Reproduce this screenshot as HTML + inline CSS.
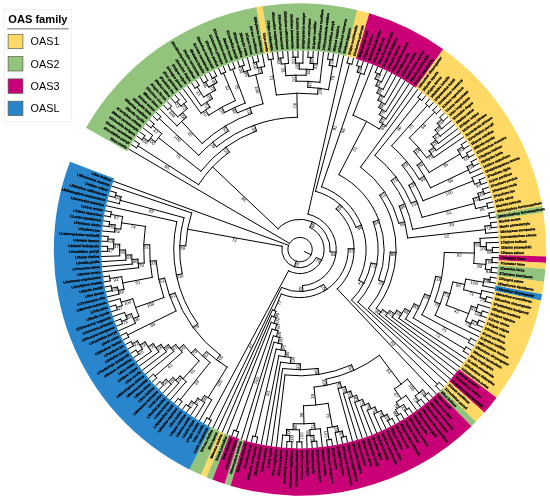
<!DOCTYPE html>
<html lang="en"><head><meta charset="utf-8"><title>OAS family phylogenetic tree</title>
<style>html,body{margin:0;padding:0;background:#fff}body{width:550px;height:500px;overflow:hidden}svg{display:block}</style></head>
<body>
<svg width="550" height="500" viewBox="0 0 550 500">
<rect width="550" height="500" fill="#fff"/>
<g id="ring">
<path fill="#93c47d" d="M85.97 127.82A246.2 246.2 0 0 1 256.62 7.15L264.95 53.71A198.9 198.9 0 0 0 127.09 151.19Z"/>
<path fill="#ffd966" d="M256.37 7.2A246.2 246.2 0 0 1 262.87 6.12L270.01 52.87A198.9 198.9 0 0 0 264.75 53.75Z"/>
<path fill="#93c47d" d="M262.62 6.15A246.2 246.2 0 0 1 357.31 10.06L346.3 56.06A198.9 198.9 0 0 0 269.8 52.91Z"/>
<path fill="#ffd966" d="M357.06 10A246.2 246.2 0 0 1 369.57 13.33L356.2 58.7A198.9 198.9 0 0 0 346.1 56.02Z"/>
<path fill="#c90076" d="M369.32 13.26A246.2 246.2 0 0 1 443.3 49.3L415.77 87.77A198.9 198.9 0 0 0 356 58.65Z"/>
<path fill="#ffd966" d="M443.09 49.15A246.2 246.2 0 0 1 542.36 206.18L495.8 214.5A198.9 198.9 0 0 0 415.6 87.64Z"/>
<path fill="#93c47d" d="M542.31 205.92A246.2 246.2 0 0 1 543.39 212.43L496.63 219.55A198.9 198.9 0 0 0 495.76 214.29Z"/>
<path fill="#ffd966" d="M543.35 212.18A246.2 246.2 0 0 1 546.1 256.67L498.82 255.3A198.9 198.9 0 0 0 496.6 219.35Z"/>
<path fill="#c90076" d="M546.1 256.42A246.2 246.2 0 0 1 545.83 263.01L498.6 260.41A198.9 198.9 0 0 0 498.82 255.09Z"/>
<path fill="#ffd966" d="M545.84 262.75A246.2 246.2 0 0 1 545.4 269.34L498.25 265.52A198.9 198.9 0 0 0 498.61 260.21Z"/>
<path fill="#93c47d" d="M545.42 269.08A246.2 246.2 0 0 1 544.05 281.94L497.17 275.71A198.9 198.9 0 0 0 498.27 265.32Z"/>
<path fill="#ffd966" d="M544.09 281.69A246.2 246.2 0 0 1 542.06 294.47L495.55 285.83A198.9 198.9 0 0 0 497.19 275.5Z"/>
<path fill="#2986cc" d="M542.11 294.21A246.2 246.2 0 0 1 540.82 300.69L494.55 290.85A198.9 198.9 0 0 0 495.59 285.62Z"/>
<path fill="#ffd966" d="M540.87 300.43A246.2 246.2 0 0 1 496.4 397.96L458.67 369.44A198.9 198.9 0 0 0 494.6 290.65Z"/>
<path fill="#c90076" d="M496.56 397.75A246.2 246.2 0 0 1 484.36 412.68L448.94 381.33A198.9 198.9 0 0 0 458.8 369.27Z"/>
<path fill="#ffd966" d="M484.53 412.48A246.2 246.2 0 0 1 475.71 421.95L441.96 388.82A198.9 198.9 0 0 0 449.08 381.17Z"/>
<path fill="#93c47d" d="M475.89 421.77A246.2 246.2 0 0 1 471.21 426.42L438.32 392.43A198.9 198.9 0 0 0 442.1 388.67Z"/>
<path fill="#c90076" d="M471.4 426.24A246.2 246.2 0 0 1 230.32 485.63L243.71 440.27A198.9 198.9 0 0 0 438.47 392.28Z"/>
<path fill="#93c47d" d="M230.57 485.71A246.2 246.2 0 0 1 224.27 483.76L238.82 438.76A198.9 198.9 0 0 0 243.91 440.33Z"/>
<path fill="#c90076" d="M224.51 483.84A246.2 246.2 0 0 1 212.31 479.55L229.15 435.35A198.9 198.9 0 0 0 239.01 438.82Z"/>
<path fill="#93c47d" d="M212.55 479.64A246.2 246.2 0 0 1 206.41 477.22L224.39 433.47A198.9 198.9 0 0 0 229.35 435.43Z"/>
<path fill="#ffd966" d="M206.65 477.32A246.2 246.2 0 0 1 200.58 474.73L219.68 431.46A198.9 198.9 0 0 0 224.58 433.55Z"/>
<path fill="#93c47d" d="M200.81 474.84A246.2 246.2 0 0 1 189.11 469.31L210.42 427.08A198.9 198.9 0 0 0 219.87 431.54Z"/>
<path fill="#2986cc" d="M189.34 469.43A246.2 246.2 0 0 1 69.97 161.75L114.16 178.61A198.9 198.9 0 0 0 210.6 427.18Z"/>
</g>
<path id="tree" fill="none" stroke="#000" stroke-width="1" stroke-linecap="square" d="M289.44 243.31A12.25 12.25 0 1 1 288.5 245.29M289.44 243.31L128.86 149.14M296.19 261.14L294.32 266.84M316.4 257.51A18.25 18.25 0 0 1 282.04 246.26M316.4 257.51L321.79 260.15M309.81 227.32A24.25 24.25 0 1 1 288.53 270.87M309.81 227.32L312.24 221.82M278 228.73A30.26 30.26 0 0 1 330.17 251.79M278 228.73L212.5 166.89M198.62 184.66A120.34 120.34 0 0 1 229.45 152.02M198.62 184.66L137.92 145.84M136.6 147.94A192.4 192.4 0 0 1 139.27 143.76M136.6 147.94L131.5 144.77M139.27 143.76L134.25 140.46M229.45 152.02L225.93 147.15M200.88 171.16A126.34 126.34 0 0 1 256.56 130.86M200.88 171.16L158.48 137.65M155.3 141.8A180.38 180.38 0 0 1 161.78 133.6M155.3 141.8L150.48 138.21M148.36 141.12A186.39 186.39 0 0 1 152.66 135.35M148.36 141.12L143.47 137.63M142.04 139.66A192.4 192.4 0 0 1 144.92 135.63M142.04 139.66L137.11 136.23M144.92 135.63L140.08 132.07M152.66 135.35L143.16 127.99M161.78 133.6L152.57 125.88M150.99 127.79A192.4 192.4 0 0 1 154.18 124M150.99 127.79L146.34 123.99M154.18 124L149.63 120.08M256.56 130.86L254.5 125.22M216.57 146.77A132.35 132.35 0 0 1 297.37 117.18M216.57 146.77L212.78 142.1M198.7 155.27A138.35 138.35 0 0 1 228.56 131.02M198.7 155.27L159.13 118.46M157.46 120.28A192.4 192.4 0 0 1 160.83 116.65M157.46 120.28L153.01 116.25M160.83 116.65L156.49 112.51M228.56 131.02L225.46 125.88M202.04 143.47A144.36 144.36 0 0 1 251.94 113.38M202.04 143.47L181.67 121.42M177.01 125.88A174.38 174.38 0 0 1 186.49 117.12M177.01 125.88L160.06 108.86M186.49 117.12L182.58 112.57M177.8 116.81A180.38 180.38 0 0 1 187.5 108.49M177.8 116.81L169.67 107.98M167.86 109.67A192.4 192.4 0 0 1 171.5 106.31M167.86 109.67L163.73 105.3M171.5 106.31L167.49 101.84M187.5 108.49L183.75 103.8M180.96 106.07A186.39 186.39 0 0 1 186.59 101.58M180.96 106.07L177.13 101.45M175.23 103.05A192.4 192.4 0 0 1 179.04 99.88M175.23 103.05L171.34 98.48M179.04 99.88L175.27 95.21M186.59 101.58L179.28 92.05M251.94 113.38L249.94 107.72M237.27 112.85A150.36 150.36 0 0 1 263.02 103.76M237.27 112.85L234.76 107.39M224.65 112.49A156.37 156.37 0 0 1 245.22 103.04M224.65 112.49L221.76 107.23M208.83 115.14A162.37 162.37 0 0 1 235.36 100.55M208.83 115.14L205.46 110.17M201.03 113.29A168.38 168.38 0 0 1 210 107.2M201.03 113.29L183.38 89M210 107.2L206.79 102.12M201.16 105.83A174.38 174.38 0 0 1 212.55 98.63M201.16 105.83L187.55 86.05M212.55 98.63L209.54 93.44M203.58 97.05A180.38 180.38 0 0 1 215.63 90.06M203.58 97.05L197.16 86.9M195.07 88.24A192.4 192.4 0 0 1 199.26 85.59M195.07 88.24L191.8 83.2M199.26 85.59L196.11 80.47M215.63 90.06L212.82 84.75M208.61 87.05A186.39 186.39 0 0 1 217.09 82.56M208.61 87.05L205.66 81.82M203.51 83.05A192.4 192.4 0 0 1 207.83 80.62M203.51 83.05L200.5 77.85M207.83 80.62L204.95 75.35M217.09 82.56L214.42 77.19M212.21 78.3A192.4 192.4 0 0 1 216.65 76.1M212.21 78.3L209.47 72.96M216.65 76.1L214.05 70.69M235.36 100.55L223.41 73.01M221.14 74.01A192.4 192.4 0 0 1 225.69 72.04M221.14 74.01L218.68 68.53M225.69 72.04L223.37 66.5M245.22 103.04L232.6 69.3M230.28 70.18A192.4 192.4 0 0 1 234.92 68.45M230.28 70.18L228.11 64.58M234.92 68.45L232.89 62.79M263.02 103.76L255.64 74.65M248.92 76.5A180.38 180.38 0 0 1 262.42 73.07M248.92 76.5L247.22 70.74M243.78 71.79A186.39 186.39 0 0 1 250.68 69.75M243.78 71.79L241.96 66.07M239.61 66.83A192.4 192.4 0 0 1 244.33 65.33M239.61 66.83L237.72 61.13M244.33 65.33L242.59 59.59M250.68 69.75L247.5 58.17M262.42 73.07L261.17 67.2M257.66 67.98A186.39 186.39 0 0 1 264.7 66.48M257.66 67.98L256.3 62.13M253.89 62.71A192.4 192.4 0 0 1 258.71 61.59M253.89 62.71L252.45 56.88M258.71 61.59L257.42 55.72M264.7 66.48L262.43 54.69M297.37 117.18L296.89 93.17M276.34 94.94A156.37 156.37 0 0 1 317.49 94.12M276.34 94.94L270.89 59.32M268.44 59.71A192.4 192.4 0 0 1 273.34 58.96M268.44 59.71L267.46 53.79M273.34 58.96L272.51 53.01M317.49 94.12L318.16 88.15M307.74 87.31A162.37 162.37 0 0 1 328.51 89.65M307.74 87.31L308.03 81.32M296.11 81.17A168.38 168.38 0 0 1 319.91 82.31M296.11 81.17L295.97 75.17M285.88 75.69A174.38 174.38 0 0 1 306.07 75.23M285.88 75.69L284.91 63.72M281.32 64.05A186.39 186.39 0 0 1 288.5 63.47M281.32 64.05L280.72 58.07M278.26 58.34A192.4 192.4 0 0 1 283.19 57.84M278.26 58.34L277.58 52.37M283.19 57.84L282.66 51.86M288.5 63.47L287.76 51.48M306.07 75.23L306.28 69.22M299.31 69.12A180.38 180.38 0 0 1 313.24 69.6M299.31 69.12L299.29 63.11M295.69 63.16A186.39 186.39 0 0 1 302.89 63.13M295.69 63.16L295.55 57.16M293.08 57.23A192.4 192.4 0 0 1 298.03 57.12M293.08 57.23L292.86 51.23M298.03 57.12L297.97 51.11M302.89 63.13L303.08 51.12M313.24 69.6L313.68 63.61M310.09 63.38A186.39 186.39 0 0 1 317.27 63.91M310.09 63.38L310.41 57.39M307.94 57.27A192.4 192.4 0 0 1 312.88 57.54M307.94 57.27L308.18 51.27M312.88 57.54L313.29 51.55M317.27 63.91L318.38 51.95M319.91 82.31L323.46 52.49M328.51 89.65L332.72 66M329.17 65.41A186.39 186.39 0 0 1 336.26 66.67M329.17 65.41L330.11 59.48M327.66 59.1A192.4 192.4 0 0 1 332.56 59.88M327.66 59.1L328.53 53.16M332.56 59.88L333.57 53.96M336.26 66.67L338.6 54.89M330.17 251.79L336.16 252.25M307.97 214.12A36.27 36.27 0 0 1 302.53 285.68M307.97 214.12L343.6 55.95M302.53 285.68L302.95 291.67M323.64 284.54A42.27 42.27 0 0 1 281.47 287.49M323.64 284.54L326.99 289.52M348.27 248.76A48.28 48.28 0 0 1 281.23 293.98M348.27 248.76L354.27 248.67M336.04 208.91A54.28 54.28 0 0 1 337.26 288.97M336.04 208.91L340.02 204.42M315.51 191.24A60.28 60.28 0 0 1 356.01 227.19M315.51 191.24L349.49 63.58M347.1 62.96A192.4 192.4 0 0 1 351.88 64.23M347.1 62.96L348.57 57.14M351.88 64.23L353.5 58.45M356.01 227.19L361.59 224.97M321.54 186.81A66.29 66.29 0 0 1 358.74 280.22M321.54 186.81L360.58 73.23M357.16 72.09A186.39 186.39 0 0 1 363.97 74.43M357.16 72.09L359 66.38M356.64 65.63A192.4 192.4 0 0 1 361.35 67.15M356.64 65.63L358.41 59.89M361.35 67.15L363.27 61.46M363.97 74.43L368.09 63.15M358.74 280.22L364.07 283M371.02 263.02A72.3 72.3 0 0 1 351.62 300.11M371.02 263.02L376.92 264.14M373.26 221.86A78.3 78.3 0 0 1 357.99 302.12M373.26 221.86L378.88 219.74M338.87 174.69A84.31 84.31 0 0 1 378.59 280M338.87 174.69L366.55 121.4M353.02 115.23A144.36 144.36 0 0 1 379.38 128.93M353.02 115.23L372.87 64.97M379.38 128.93L382.68 123.91M379.43 121.83A150.36 150.36 0 0 1 385.87 126.07M379.43 121.83L382.6 116.73M379.18 114.67A156.37 156.37 0 0 1 385.97 118.89M379.18 114.67L382.22 109.49M378.65 107.45A162.37 162.37 0 0 1 385.75 111.62M378.65 107.45L381.56 102.2M377.86 100.21A168.38 168.38 0 0 1 385.21 104.28M377.86 100.21L380.63 94.88M376.88 92.98A174.38 174.38 0 0 1 384.34 96.87M376.88 92.98L379.52 87.59M375.86 85.84A180.38 180.38 0 0 1 383.15 89.42M375.86 85.84L378.38 80.39M375.1 78.91A186.39 186.39 0 0 1 381.63 81.94M375.1 78.91L377.52 73.41M375.25 72.43A192.4 192.4 0 0 1 379.78 74.43M375.25 72.43L377.59 66.9M379.78 74.43L382.27 68.96M381.63 81.94L386.89 71.14M383.15 89.42L391.46 73.44M384.34 96.87L395.96 75.85M385.21 104.28L400.4 78.38M385.75 111.62L404.77 81.02M385.97 118.89L409.08 83.78M385.87 126.07L413.31 86.64M378.59 280L384.19 282.17M390.27 252.14A90.31 90.31 0 0 1 368.42 308.44M390.27 252.14L396.27 252.32M379.58 195.25A96.32 96.32 0 0 1 376.27 308.32M379.58 195.25L384.55 191.87M360.58 167.04A102.32 102.32 0 0 1 398.9 223.25M360.58 167.04L417.47 89.61M398.9 223.25L404.7 221.71M399.25 206.09A108.33 108.33 0 0 1 407.71 237.98M399.25 206.09L404.75 203.69M391.21 180.57A114.33 114.33 0 0 1 412.54 229.32M391.21 180.57L396.01 176.95M374.94 155.35A120.34 120.34 0 0 1 411.04 203.11M374.94 155.35L419.81 98.97M417.87 97.44A192.4 192.4 0 0 1 421.74 100.52M417.87 97.44L421.54 92.69M421.74 100.52L425.54 95.87M411.04 203.11L416.58 200.8M408.78 185.25A126.34 126.34 0 0 1 422.16 217.28M408.78 185.25L413.95 182.19M402.06 165.25A132.35 132.35 0 0 1 423.05 200.78M402.06 165.25L406.7 161.43M391.62 145.83A138.35 138.35 0 0 1 419.15 179.19M391.62 145.83L427.41 105.33M425.54 103.71A192.4 192.4 0 0 1 429.25 106.99M425.54 103.71L429.46 99.16M429.25 106.99L433.29 102.54M419.15 179.19L424.32 176.14M417.08 165.06A144.36 144.36 0 0 1 430.52 187.83M417.08 165.06L421.95 161.55M413.87 151.31A150.36 150.36 0 0 1 429.12 172.46M413.87 151.31L418.42 147.38M409.44 137.82A156.37 156.37 0 0 1 426.56 157.67M409.44 137.82L434.66 112.09M432.88 110.36A192.4 192.4 0 0 1 436.42 113.83M432.88 110.36L437.03 106.02M436.42 113.83L440.68 109.6M426.56 157.67L431.42 154.14M428.96 150.84A162.37 162.37 0 0 1 433.79 157.5M428.96 150.84L433.73 147.19M431.13 143.89A168.38 168.38 0 0 1 436.24 150.56M431.13 143.89L435.81 140.12M433.13 136.87A174.38 174.38 0 0 1 438.41 143.43M433.13 136.87L437.71 132.99M435.05 129.92A180.38 180.38 0 0 1 440.3 136.13M435.05 129.92L439.55 125.94M437.14 123.27A186.39 186.39 0 0 1 441.91 128.66M437.14 123.27L441.56 119.2M439.87 117.39A192.4 192.4 0 0 1 443.22 121.03M439.87 117.39L444.23 113.27M443.22 121.03L447.69 117.02M441.91 128.66L451.05 120.87M440.3 136.13L454.32 124.8M438.41 143.43L457.48 128.82M436.24 150.56L460.53 132.92M433.79 157.5L463.48 137.09M429.12 172.46L460.06 153.99M457.55 149.9A186.39 186.39 0 0 1 462.47 158.15M457.55 149.9L462.62 146.69M461.29 144.61A192.4 192.4 0 0 1 463.94 148.8M461.29 144.61L466.32 141.34M463.94 148.8L469.05 145.65M462.47 158.15L467.7 155.2M466.47 153.05A192.4 192.4 0 0 1 468.9 157.37M466.47 153.05L471.67 150.04M468.9 157.37L474.17 154.5M430.52 187.83L468.53 169.87M466.96 166.63A186.39 186.39 0 0 1 470.03 173.14M466.96 166.63L472.33 163.96M471.22 161.75A192.4 192.4 0 0 1 473.42 166.19M471.22 161.75L476.56 159.01M473.42 166.19L478.83 163.59M470.03 173.14L480.99 168.22M423.05 200.78L473.3 180.88M471.94 177.55A186.39 186.39 0 0 1 474.59 184.24M471.94 177.55L483.02 172.91M474.59 184.24L480.22 182.14M479.34 179.82A192.4 192.4 0 0 1 481.07 184.47M479.34 179.82L484.93 177.65M481.07 184.47L486.72 182.44M422.16 217.28L474.42 203.49M473.01 198.46A180.38 180.38 0 0 1 475.68 208.57M473.01 198.46L478.77 196.76M477.72 193.32A186.39 186.39 0 0 1 479.76 200.22M477.72 193.32L483.45 191.51M482.68 189.15A192.4 192.4 0 0 1 484.18 193.87M482.68 189.15L488.39 187.27M484.18 193.87L489.93 192.14M479.76 200.22L491.34 197.05M475.68 208.57L487.38 205.84M486.8 203.43A192.4 192.4 0 0 1 487.92 208.26M486.8 203.43L492.63 201.99M487.92 208.26L493.79 206.97M412.54 229.32L489.38 215.55M488.92 213.11A192.4 192.4 0 0 1 489.8 217.99M488.92 213.11L494.82 211.97M489.8 217.99L495.72 217M407.71 237.98L485.33 229.67M484.91 226.09A186.39 186.39 0 0 1 485.68 233.25M484.91 226.09L490.87 225.34M490.55 222.88A192.4 192.4 0 0 1 491.17 227.8M490.55 222.88L496.49 222.05M491.17 227.8L497.13 227.12M485.68 233.25L497.64 232.21M376.27 308.32L381.03 311.98M382.77 309.65A102.32 102.32 0 0 1 379.21 314.26M382.77 309.65L387.63 313.18M389.57 310.42A108.33 108.33 0 0 1 385.6 315.88M389.57 310.42L394.54 313.79M396.83 310.29A114.33 114.33 0 0 1 392.12 317.21M396.83 310.29L401.92 313.48M404.84 308.56A120.34 120.34 0 0 1 398.76 318.25M404.84 308.56L410.08 311.51M414.11 303.74A126.34 126.34 0 0 1 405.52 318.99M414.11 303.74L419.53 306.32M424.6 294.1A132.35 132.35 0 0 1 413.26 317.96M424.6 294.1L430.26 296.12M435.72 276.34A138.35 138.35 0 0 1 421.93 314.88M435.72 276.34L441.61 277.5M444.32 252.47A144.36 144.36 0 0 1 434.59 301.68M444.32 252.47L474.34 253.09M474.25 242.7A174.38 174.38 0 0 1 473.82 263.46M474.25 242.7L480.25 242.47M480.04 238.41A180.38 180.38 0 0 1 480.36 246.53M480.04 238.41L498.02 237.3M480.36 246.53L486.36 246.43M486.27 242.84A186.39 186.39 0 0 1 486.39 250.03M486.27 242.84L498.27 242.41M486.39 250.03L492.39 250.05M492.39 247.57A192.4 192.4 0 0 1 492.37 252.53M492.39 247.57L498.39 247.51M492.37 252.53L498.38 252.62M473.82 263.46L485.79 264.42M486.11 259.63A186.39 186.39 0 0 1 485.35 269.2M486.11 259.63L492.11 259.96M492.23 257.48A192.4 192.4 0 0 1 491.96 262.43M492.23 257.48L498.23 257.73M491.96 262.43L497.95 262.83M485.35 269.2L491.32 269.83M491.56 267.37A192.4 192.4 0 0 1 491.04 272.3M491.56 267.37L497.54 267.93M491.04 272.3L497 273.01M434.59 301.68L440.19 303.85M444.25 291.94A150.36 150.36 0 0 1 435.16 315.38M444.25 291.94L450.01 293.64M452.97 281.93A156.37 156.37 0 0 1 446.15 305.09M452.97 281.93L464.71 284.42M465.75 279.1A168.38 168.38 0 0 1 463.51 289.7M465.75 279.1L483.49 282.27M484.09 278.72A186.39 186.39 0 0 1 482.82 285.8M484.09 278.72L490.02 279.66M490.39 277.21A192.4 192.4 0 0 1 489.61 282.1M490.39 277.21L496.33 278.07M489.61 282.1L495.53 283.12M482.82 285.8L494.6 288.14M463.51 289.7L481 294M481.82 290.5A186.39 186.39 0 0 1 480.11 297.49M481.82 290.5L493.54 293.14M480.11 297.49L485.91 299.04M486.53 296.64A192.4 192.4 0 0 1 485.25 301.43M486.53 296.64L492.35 298.11M485.25 301.43L491.04 303.05M446.15 305.09L468.6 313.62M471.32 305.96A180.38 180.38 0 0 1 465.54 321.16M471.32 305.96L477.02 307.84M478.12 304.41A186.39 186.39 0 0 1 475.86 311.25M478.12 304.41L489.59 307.95M475.86 311.25L481.53 313.24M482.34 310.9A192.4 192.4 0 0 1 480.69 315.57M482.34 310.9L488.03 312.81M480.69 315.57L486.33 317.63M465.54 321.16L471.05 323.54M472.45 320.22A186.39 186.39 0 0 1 469.59 326.83M472.45 320.22L478.01 322.5M478.93 320.2A192.4 192.4 0 0 1 477.05 324.79M478.93 320.2L484.52 322.41M477.05 324.79L482.58 327.14M469.59 326.83L480.52 331.81M435.16 315.38L478.34 336.43M421.93 314.88L469.56 340.42M470.71 338.23A192.4 192.4 0 0 1 468.37 342.6M470.71 338.23L476.04 341M468.37 342.6L473.63 345.5M413.26 317.96L464.65 349.03M465.92 346.9A192.4 192.4 0 0 1 463.36 351.14M465.92 346.9L471.1 349.94M463.36 351.14L468.45 354.31M405.52 318.99L465.7 358.62M398.76 318.25L462.83 362.85M392.12 317.21L459.86 367M385.6 315.88L456.78 371.08M379.21 314.26L453.6 375.08M368.42 308.44L450.31 378.99M357.99 302.12L446.93 382.82M351.62 300.11L437.38 384.19M439.11 382.41A192.4 192.4 0 0 1 435.64 385.95M439.11 382.41L443.45 386.56M435.64 385.95L439.87 390.21M337.26 288.97L436.2 393.76M281.23 293.98L274.23 310.57M275.99 311.29A66.29 66.29 0 0 1 272.48 309.81M275.99 311.29L273.81 316.89M275.96 317.68A72.3 72.3 0 0 1 271.69 316.02M275.96 317.68L273.96 323.34M276.76 324.27A78.3 78.3 0 0 1 271.21 322.31M276.76 324.27L274.97 330M277.93 330.86A84.31 84.31 0 0 1 272.05 329.04M277.93 330.86L276.36 336.66M279.37 337.42A90.31 90.31 0 0 1 273.37 335.8M279.37 337.42L278 343.27M282.05 344.13A96.32 96.32 0 0 1 273.98 342.23M282.05 344.13L280.93 350.03M285.72 350.82A102.32 102.32 0 0 1 276.19 349.01M285.72 350.82L284.88 356.77M290.94 357.45A108.33 108.33 0 0 1 278.88 355.75M290.94 357.45L290.44 363.43M300.35 363.83A114.33 114.33 0 0 1 280.6 362.17M300.35 363.83L300.36 369.83M318.08 368.47A120.34 120.34 0 0 1 282.64 368.58M318.08 368.47L318.98 374.41M351.59 364.83A126.34 126.34 0 0 1 285 374.95M351.59 364.83L354.04 370.31M379.46 355.34A132.35 132.35 0 0 1 325.94 379.28M379.46 355.34L401.09 384.15M407.47 379.11A168.38 168.38 0 0 1 394.47 388.87M407.47 379.11L418.97 392.98M422.63 389.87A186.39 186.39 0 0 1 415.24 396M422.63 389.87L426.58 394.39M428.43 392.75A192.4 192.4 0 0 1 424.7 396.01M428.43 392.75L432.44 397.22M424.7 396.01L428.59 400.58M415.24 396L418.95 400.72M420.89 399.17A192.4 192.4 0 0 1 416.99 402.24M420.89 399.17L424.66 403.85M416.99 402.24L420.64 407M394.47 388.87L401.21 398.82M405.96 395.48A180.38 180.38 0 0 1 396.35 402M405.96 395.48L416.55 410.06M396.35 402L399.56 407.07M403.58 404.46A186.39 186.39 0 0 1 395.47 409.58M403.58 404.46L406.92 409.45M408.97 408.06A192.4 192.4 0 0 1 404.85 410.81M408.97 408.06L412.37 413.01M404.85 410.81L408.13 415.85M395.47 409.58L398.54 414.74M400.66 413.46A192.4 192.4 0 0 1 396.41 416M400.66 413.46L403.81 418.58M396.41 416L399.42 421.19M325.94 379.28L327.12 385.17M339.96 381.95A138.35 138.35 0 0 1 314.02 387.14M339.96 381.95L341.7 387.7M345.24 386.58A144.36 144.36 0 0 1 338.13 388.73M345.24 386.58L347.12 392.29M350.76 391.03A150.36 150.36 0 0 1 343.44 393.45M350.76 391.03L352.79 396.68M356.53 395.29A156.37 156.37 0 0 1 349.01 397.98M356.53 395.29L358.71 400.89M362.52 399.35A162.37 162.37 0 0 1 354.85 402.33M362.52 399.35L364.84 404.89M368.69 403.22A168.38 168.38 0 0 1 360.94 406.46M368.69 403.22L371.14 408.71M374.97 406.94A174.38 174.38 0 0 1 367.28 410.38M374.97 406.94L377.55 412.37M381.2 410.58A180.38 180.38 0 0 1 373.86 414.07M381.2 410.58L383.9 415.94M387.1 414.29A186.39 186.39 0 0 1 380.67 417.53M387.1 414.29L389.91 419.6M392.09 418.42A192.4 192.4 0 0 1 387.71 420.74M392.09 418.42L394.96 423.7M387.71 420.74L390.45 426.08M380.67 417.53L385.87 428.35M373.86 414.07L381.23 430.51M367.28 410.38L376.55 432.54M360.94 406.46L371.81 434.45M354.85 402.33L367.02 436.24M349.01 397.98L362.19 437.9M343.44 393.45L357.32 439.44M338.13 388.73L352.41 440.85M314.02 387.14L315.85 405.06M328.06 403.33A156.37 156.37 0 0 1 303.54 405.82M328.06 403.33L332.37 426.96M337.49 425.95A180.38 180.38 0 0 1 327.21 427.82M337.49 425.95L338.74 431.82M342.25 431.04A186.39 186.39 0 0 1 335.21 432.53M342.25 431.04L343.62 436.89M346.03 436.31A192.4 192.4 0 0 1 341.2 437.43M346.03 436.31L347.46 442.14M341.2 437.43L342.49 443.3M335.21 432.53L337.48 444.33M327.21 427.82L329.02 439.69M331.47 439.3A192.4 192.4 0 0 1 326.57 440.05M331.47 439.3L332.45 445.23M326.57 440.05L327.4 446M303.54 405.82L303.95 423.84M314.6 423.27A174.38 174.38 0 0 1 293.29 423.75M314.6 423.27L315.1 429.25M320.3 428.74A180.38 180.38 0 0 1 309.89 429.61M320.3 428.74L322.33 446.64M309.89 429.61L310.22 435.61M313.81 435.38A186.39 186.39 0 0 1 306.62 435.77M313.81 435.38L314.26 441.37M316.72 441.17A192.4 192.4 0 0 1 311.78 441.53M316.72 441.17L317.25 447.15M311.78 441.53L312.15 447.53M306.62 435.77L307.05 447.77M293.29 423.75L293.05 429.75M299.44 429.88A180.38 180.38 0 0 1 286.68 429.39M299.44 429.88L299.4 441.89M301.88 441.89A192.4 192.4 0 0 1 296.93 441.87M301.88 441.89L301.94 447.89M296.93 441.87L296.83 447.87M286.68 429.39L286.23 435.38M289.83 435.61A186.39 186.39 0 0 1 282.65 435.08M289.83 435.61L289.5 441.61M291.97 441.73A192.4 192.4 0 0 1 287.03 441.46M291.97 441.73L291.72 447.73M287.03 441.46L286.62 447.45M282.65 435.08L281.53 447.04M285 374.95L276.45 446.5M282.64 368.58L271.38 445.83M280.6 362.17L266.34 445.02M278.88 355.75L261.31 444.09M276.19 349.01L255.22 436.61M257.64 437.17A192.4 192.4 0 0 1 252.82 436.02M257.64 437.17L256.31 443.03M252.82 436.02L251.34 441.84M273.98 342.23L246.41 440.52M273.37 335.8L241.51 439.08M272.05 329.04L236.22 431.01M238.56 431.82A192.4 192.4 0 0 1 233.89 430.18M238.56 431.82L236.64 437.51M233.89 430.18L231.82 435.82M271.21 322.31L227.05 434M271.69 316.02L222.32 432.06M272.48 309.81L217.64 430M281.47 287.49L213.02 427.82M288.53 270.87L209.04 419.04M211.23 420.19A192.4 192.4 0 0 1 206.86 417.85M211.23 420.19L208.46 425.52M206.86 417.85L203.96 423.1M282.04 246.26L187.49 229.18M185.73 245.83A114.33 114.33 0 0 1 191.66 212.96M185.73 245.83L179.73 245.64M182.14 273.77A120.34 120.34 0 0 1 183.94 217.71M182.14 273.77L176.26 274.98M197.8 323.77A126.34 126.34 0 0 1 176.77 221.65M197.8 323.77L192.94 327.3M220.07 354.98A132.35 132.35 0 0 1 174.99 292.94M220.07 354.98L216.45 359.77M227.07 367.07A138.35 138.35 0 0 1 206.55 351.51M227.07 367.07L208.08 397.69M211.68 399.86A174.38 174.38 0 0 1 204.53 395.42M211.68 399.86L199.52 420.57M204.53 395.42L201.24 400.45M204.67 402.64A180.38 180.38 0 0 1 197.86 398.18M204.67 402.64L195.15 417.93M197.86 398.18L194.46 403.13M197.45 405.14A186.39 186.39 0 0 1 191.52 401.07M197.45 405.14L190.84 415.17M191.52 401.07L188.02 405.95M190.05 407.38A192.4 192.4 0 0 1 186.02 404.5M190.05 407.38L186.61 412.31M186.02 404.5L182.46 409.33M206.55 351.51L202.49 355.94M210.05 362.4A144.36 144.36 0 0 1 195.39 348.98M210.05 362.4L180.12 399.98M182.06 401.51A192.4 192.4 0 0 1 178.19 398.42M182.06 401.51L178.38 406.25M178.19 398.42L174.39 403.07M195.39 348.98L191.04 353.11M199.11 360.99A150.36 150.36 0 0 1 183.58 344.65M199.11 360.99L183 378.8M186.15 381.59A174.38 174.38 0 0 1 179.91 375.94M186.15 381.59L170.47 399.78M179.91 375.94L175.78 380.29M178.75 383.06A180.38 180.38 0 0 1 172.86 377.46M178.75 383.06L166.65 396.4M172.86 377.46L168.63 381.72M171.21 384.23A186.39 186.39 0 0 1 166.1 379.16M171.21 384.23L162.91 392.92M166.1 379.16L161.78 383.34M163.52 385.11A192.4 192.4 0 0 1 160.07 381.55M163.52 385.11L159.26 389.34M160.07 381.55L155.7 385.67M183.58 344.65L178.93 348.45M182.22 352.34A156.37 156.37 0 0 1 175.77 344.45M182.22 352.34L155.08 376.04M156.72 377.9A192.4 192.4 0 0 1 153.46 374.17M156.72 377.9L152.25 381.91M153.46 374.17L148.89 378.06M175.77 344.45L171 348.1M173.66 351.49A162.37 162.37 0 0 1 168.42 344.64M173.66 351.49L145.62 374.12M168.42 344.64L163.56 348.16M166.31 351.85A168.38 168.38 0 0 1 160.91 344.39M166.31 351.85L142.47 370.11M160.91 344.39L155.95 347.77M158.86 351.9A174.38 174.38 0 0 1 153.16 343.56M158.86 351.9L139.41 366.01M153.16 343.56L148.1 346.8M151.32 351.64A180.38 180.38 0 0 1 145.05 341.86M151.32 351.64L136.47 361.84M145.05 341.86L139.89 344.93M142.4 349.02A186.39 186.39 0 0 1 137.49 340.78M142.4 349.02L137.33 352.23M138.66 354.32A192.4 192.4 0 0 1 136.02 350.13M138.66 354.32L133.63 357.59M136.02 350.13L130.9 353.27M137.49 340.78L132.25 343.72M133.48 345.87A192.4 192.4 0 0 1 131.05 341.55M133.48 345.87L128.28 348.88M131.05 341.55L125.78 344.42M174.99 292.94L169.32 294.91M176.05 310.95A138.35 138.35 0 0 1 164.65 278.16M176.05 310.95L127.63 334.96M128.74 337.17A192.4 192.4 0 0 1 126.54 332.73M128.74 337.17L123.39 339.9M126.54 332.73L121.12 335.33M164.65 278.16L158.78 279.4M163.89 297.58A144.36 144.36 0 0 1 156.08 260.71M163.89 297.58L135.57 307.57M138.89 316.22A174.38 174.38 0 0 1 132.72 298.76M138.89 316.22L133.34 318.52M135.41 323.32A180.38 180.38 0 0 1 131.41 313.66M135.41 323.32L118.97 330.69M131.41 313.66L125.8 315.8M127.11 319.15A186.39 186.39 0 0 1 124.55 312.42M127.11 319.15L121.54 321.4M122.48 323.69A192.4 192.4 0 0 1 120.63 319.09M122.48 323.69L116.94 326M120.63 319.09L115.03 321.26M124.55 312.42L113.25 316.48M132.72 298.76L121.2 302.16M122.25 305.6A186.39 186.39 0 0 1 120.22 298.69M122.25 305.6L116.53 307.41M117.29 309.76A192.4 192.4 0 0 1 115.8 305.04M117.29 309.76L111.58 311.65M115.8 305.04L110.05 306.77M120.22 298.69L108.63 301.86M156.08 260.71L150.09 261.18M152.25 277.4A150.36 150.36 0 0 1 149.71 244.82M152.25 277.4L122.75 282.97M124.04 289.22A180.38 180.38 0 0 1 121.67 276.67M124.04 289.22L118.18 290.54M119.01 294.05A186.39 186.39 0 0 1 117.43 287.02M119.01 294.05L107.35 296.92M117.43 287.02L111.54 288.23M112.06 290.66A192.4 192.4 0 0 1 111.06 285.8M112.06 290.66L106.19 291.94M111.06 285.8L105.16 286.94M121.67 276.67L109.8 278.48M110.19 280.92A192.4 192.4 0 0 1 109.44 276.03M110.19 280.92L104.26 281.91M109.44 276.03L103.49 276.85M149.71 244.82L143.71 244.64M144.21 262.93A156.37 156.37 0 0 1 145.35 226.41M144.21 262.93L138.23 263.45M138.66 267.74A162.37 162.37 0 0 1 137.92 259.15M138.66 267.74L102.86 271.78M137.92 259.15L131.92 259.5M132.26 264.1A168.38 168.38 0 0 1 131.71 254.9M132.26 264.1L102.35 266.7M131.71 254.9L125.71 255.09M125.94 260.14A174.38 174.38 0 0 1 125.62 250.04M125.94 260.14L101.97 261.6M125.62 250.04L119.62 250.06M119.73 255.87A180.38 180.38 0 0 1 119.69 244.25M119.73 255.87L101.72 256.5M119.69 244.25L113.69 244.08M113.61 248.88A186.39 186.39 0 0 1 113.89 239.28M113.61 248.88L107.61 248.86M107.61 251.34A192.4 192.4 0 0 1 107.63 246.38M107.61 251.34L101.61 251.39M107.63 246.38L101.63 246.28M113.89 239.28L107.89 238.95M107.77 241.43A192.4 192.4 0 0 1 108.05 236.48M107.77 241.43L101.77 241.18M108.05 236.48L102.05 236.07M145.35 226.41L121.59 222.86M120.76 229.2A180.38 180.38 0 0 1 122.65 216.56M120.76 229.2L114.79 228.52M114.42 232.1A186.39 186.39 0 0 1 115.23 224.95M114.42 232.1L102.47 230.98M115.23 224.95L109.28 224.16M108.97 226.61A192.4 192.4 0 0 1 109.62 221.7M108.97 226.61L103.01 225.9M109.62 221.7L103.68 220.84M122.65 216.56L110.84 214.37M110.4 216.81A192.4 192.4 0 0 1 111.31 211.94M110.4 216.81L104.48 215.79M111.31 211.94L105.42 210.77M176.77 221.65L106.48 205.77M183.94 217.71L120.23 200.27M119.31 203.75A186.39 186.39 0 0 1 121.21 196.8M119.31 203.75L107.67 200.8M121.21 196.8L115.45 195.1M114.77 197.49A192.4 192.4 0 0 1 116.17 192.73M114.77 197.49L108.99 195.86M116.17 192.73L110.43 190.96M191.66 212.96L112 186.1M288.5 245.29L113.7 181.28M311.08 254.72L304.29 251.52"/>
<g id="boot" font-family="'Liberation Sans', Arial, sans-serif" font-size="4.5" fill="#000" text-anchor="middle">
<text transform="translate(295.25 263.99) rotate(288.14)" y="3.8">75</text>
<text transform="translate(319.1 258.83) rotate(26.03)" y="3.8">79</text>
<text transform="translate(311.02 224.57) rotate(293.85)" y="3.8">86</text>
<text transform="translate(245.25 197.81) rotate(43.35)" y="3.8">95</text>
<text transform="translate(168.27 165.25) rotate(32.6)" y="3.8">65</text>
<text transform="translate(227.69 149.59) rotate(54.1)" y="3.8">100</text>
<text transform="translate(179.68 154.41) rotate(38.32)" y="3.8">75</text>
<text transform="translate(152.89 140.01) rotate(36.66)" y="3.8">100</text>
<text transform="translate(145.91 139.38) rotate(35.55)" y="3.8">100</text>
<text transform="translate(157.17 129.74) rotate(39.98)" y="3.8">47</text>
<text transform="translate(255.53 128.04) rotate(69.89)" y="3.8">100</text>
<text transform="translate(214.68 144.43) rotate(50.92)" y="3.8">79</text>
<text transform="translate(178.92 136.86) rotate(42.93)" y="3.8">100</text>
<text transform="translate(227.01 128.45) rotate(58.91)" y="3.8">53</text>
<text transform="translate(191.85 132.44) rotate(47.27)" y="3.8">96</text>
<text transform="translate(184.53 114.85) rotate(49.39)" y="3.8">100</text>
<text transform="translate(173.74 112.39) rotate(47.36)" y="3.8">100</text>
<text transform="translate(185.63 106.15) rotate(51.42)" y="3.8">72</text>
<text transform="translate(179.04 103.76) rotate(50.31)" y="3.8">73</text>
<text transform="translate(250.94 110.55) rotate(70.55)" y="3.8">100</text>
<text transform="translate(236.02 110.12) rotate(65.34)" y="3.8">94</text>
<text transform="translate(223.2 109.86) rotate(61.19)" y="3.8">100</text>
<text transform="translate(207.15 112.65) rotate(55.84)" y="3.8">42</text>
<text transform="translate(208.39 104.66) rotate(57.69)" y="3.8">72</text>
<text transform="translate(211.04 96.04) rotate(59.9)" y="3.8">100</text>
<text transform="translate(200.37 91.97) rotate(57.69)" y="3.8">33</text>
<text transform="translate(214.23 87.41) rotate(62.11)" y="3.8">100</text>
<text transform="translate(207.14 84.44) rotate(60.64)" y="3.8">95</text>
<text transform="translate(215.76 79.87) rotate(63.59)" y="3.8">100</text>
<text transform="translate(229.38 86.78) rotate(66.54)" y="3.8">33</text>
<text transform="translate(238.91 86.17) rotate(69.49)" y="3.8">75</text>
<text transform="translate(259.33 89.21) rotate(75.76)" y="3.8">100</text>
<text transform="translate(248.07 73.62) rotate(73.55)" y="3.8">95</text>
<text transform="translate(242.87 68.93) rotate(72.44)" y="3.8">100</text>
<text transform="translate(261.8 70.14) rotate(77.98)" y="3.8">42</text>
<text transform="translate(256.98 65.06) rotate(76.87)" y="3.8">100</text>
<text transform="translate(297.13 105.17) rotate(88.86)" y="3.8">90</text>
<text transform="translate(273.61 77.13) rotate(81.3)" y="3.8">73</text>
<text transform="translate(317.83 91.13) rotate(276.42)" y="3.8">100</text>
<text transform="translate(307.89 84.32) rotate(272.73)" y="3.8">47</text>
<text transform="translate(296.04 78.17) rotate(88.68)" y="3.8">100</text>
<text transform="translate(285.39 69.71) rotate(85.36)" y="3.8">33</text>
<text transform="translate(281.02 61.06) rotate(84.25)" y="3.8">88</text>
<text transform="translate(306.18 72.23) rotate(272)" y="3.8">42</text>
<text transform="translate(299.3 66.11) rotate(89.78)" y="3.8">98</text>
<text transform="translate(295.62 60.16) rotate(88.68)" y="3.8">100</text>
<text transform="translate(313.46 66.61) rotate(274.21)" y="3.8">33</text>
<text transform="translate(310.25 60.39) rotate(273.1)" y="3.8">97</text>
<text transform="translate(330.61 77.83) rotate(280.11)" y="3.8">79</text>
<text transform="translate(329.64 62.44) rotate(279)" y="3.8">100</text>
<text transform="translate(333.17 252.02) rotate(4.35)" y="3.8">93</text>
<text transform="translate(302.74 288.67) rotate(86)" y="3.8">42</text>
<text transform="translate(325.32 287.03) rotate(56)" y="3.8">100</text>
<text transform="translate(351.27 248.71) rotate(359.12)" y="3.8">33</text>
<text transform="translate(338.03 206.66) rotate(311.6)" y="3.8">100</text>
<text transform="translate(332.5 127.41) rotate(284.91)" y="3.8">91</text>
<text transform="translate(358.8 226.08) rotate(338.28)" y="3.8">96</text>
<text transform="translate(341.06 130.02) rotate(288.97)" y="3.8">56</text>
<text transform="translate(358.08 69.23) rotate(287.86)" y="3.8">56</text>
<text transform="translate(361.4 281.61) rotate(27.6)" y="3.8">47</text>
<text transform="translate(373.97 263.58) rotate(10.78)" y="3.8">72</text>
<text transform="translate(376.07 220.8) rotate(339.33)" y="3.8">86</text>
<text transform="translate(352.71 148.04) rotate(297.45)" y="3.8">61</text>
<text transform="translate(381.03 126.42) rotate(303.36)" y="3.8">65</text>
<text transform="translate(381.02 119.28) rotate(301.89)" y="3.8">65</text>
<text transform="translate(380.7 112.08) rotate(300.42)" y="3.8">79</text>
<text transform="translate(380.1 104.82) rotate(298.97)" y="3.8">88</text>
<text transform="translate(379.25 97.54) rotate(297.54)" y="3.8">94</text>
<text transform="translate(378.2 90.29) rotate(296.16)" y="3.8">98</text>
<text transform="translate(377.12 83.12) rotate(294.87)" y="3.8">94</text>
<text transform="translate(376.31 76.16) rotate(293.76)" y="3.8">100</text>
<text transform="translate(381.39 281.09) rotate(21.21)" y="3.8">33</text>
<text transform="translate(393.27 252.23) rotate(1.68)" y="3.8">88</text>
<text transform="translate(382.07 193.56) rotate(325.72)" y="3.8">51</text>
<text transform="translate(401.8 222.48) rotate(345.14)" y="3.8">56</text>
<text transform="translate(402 204.89) rotate(336.38)" y="3.8">85</text>
<text transform="translate(393.61 178.76) rotate(322.92)" y="3.8">71</text>
<text transform="translate(397.38 127.16) rotate(308.52)" y="3.8">90</text>
<text transform="translate(413.81 201.96) rotate(337.33)" y="3.8">100</text>
<text transform="translate(411.37 183.72) rotate(329.43)" y="3.8">100</text>
<text transform="translate(404.38 163.34) rotate(320.46)" y="3.8">53</text>
<text transform="translate(409.51 125.58) rotate(311.47)" y="3.8">73</text>
<text transform="translate(421.74 177.66) rotate(329.46)" y="3.8">99</text>
<text transform="translate(419.52 163.31) rotate(324.2)" y="3.8">85</text>
<text transform="translate(416.14 149.34) rotate(319.23)" y="3.8">100</text>
<text transform="translate(422.05 124.95) rotate(314.42)" y="3.8">56</text>
<text transform="translate(428.99 155.9) rotate(324.03)" y="3.8">73</text>
<text transform="translate(431.34 149.02) rotate(322.58)" y="3.8">100</text>
<text transform="translate(433.47 142) rotate(321.15)" y="3.8">100</text>
<text transform="translate(435.42 134.93) rotate(319.77)" y="3.8">42</text>
<text transform="translate(437.3 127.93) rotate(318.48)" y="3.8">33</text>
<text transform="translate(439.35 121.23) rotate(317.37)" y="3.8">86</text>
<text transform="translate(444.59 163.22) rotate(329.18)" y="3.8">85</text>
<text transform="translate(460.09 148.3) rotate(327.7)" y="3.8">83</text>
<text transform="translate(465.09 156.68) rotate(330.65)" y="3.8">56</text>
<text transform="translate(449.52 178.85) rotate(334.71)" y="3.8">65</text>
<text transform="translate(469.65 165.3) rotate(333.6)" y="3.8">100</text>
<text transform="translate(448.17 190.83) rotate(338.4)" y="3.8">100</text>
<text transform="translate(477.41 183.19) rotate(339.51)" y="3.8">91</text>
<text transform="translate(448.29 210.39) rotate(345.22)" y="3.8">61</text>
<text transform="translate(475.89 197.61) rotate(343.56)" y="3.8">100</text>
<text transform="translate(480.58 192.41) rotate(342.46)" y="3.8">100</text>
<text transform="translate(481.53 207.2) rotate(346.88)" y="3.8">88</text>
<text transform="translate(450.96 222.43) rotate(349.83)" y="3.8">33</text>
<text transform="translate(446.52 233.82) rotate(353.89)" y="3.8">22</text>
<text transform="translate(487.89 225.72) rotate(352.79)" y="3.8">71</text>
<text transform="translate(378.65 310.15) rotate(37.64)" y="3.8">90</text>
<text transform="translate(385.2 311.41) rotate(36.01)" y="3.8">77</text>
<text transform="translate(392.06 312.1) rotate(34.22)" y="3.8">83</text>
<text transform="translate(399.38 311.88) rotate(32.12)" y="3.8">100</text>
<text transform="translate(407.46 310.04) rotate(29.39)" y="3.8">65</text>
<text transform="translate(416.82 305.03) rotate(25.42)" y="3.8">83</text>
<text transform="translate(427.43 295.11) rotate(19.69)" y="3.8">99</text>
<text transform="translate(438.67 276.92) rotate(11.19)" y="3.8">100</text>
<text transform="translate(459.33 252.78) rotate(1.18)" y="3.8">92</text>
<text transform="translate(477.25 242.59) rotate(357.77)" y="3.8">56</text>
<text transform="translate(483.36 246.48) rotate(359.06)" y="3.8">100</text>
<text transform="translate(489.39 250.04) rotate(0.16)" y="3.8">96</text>
<text transform="translate(479.81 263.94) rotate(4.59)" y="3.8">90</text>
<text transform="translate(489.11 259.79) rotate(3.12)" y="3.8">100</text>
<text transform="translate(488.33 269.52) rotate(6.07)" y="3.8">94</text>
<text transform="translate(437.39 302.77) rotate(21.19)" y="3.8">75</text>
<text transform="translate(447.13 292.79) rotate(16.4)" y="3.8">75</text>
<text transform="translate(458.84 283.17) rotate(11.97)" y="3.8">56</text>
<text transform="translate(474.62 280.68) rotate(10.12)" y="3.8">100</text>
<text transform="translate(487.05 279.19) rotate(9.02)" y="3.8">99</text>
<text transform="translate(472.25 291.85) rotate(13.81)" y="3.8">71</text>
<text transform="translate(483.01 298.26) rotate(14.92)" y="3.8">75</text>
<text transform="translate(457.38 309.35) rotate(20.82)" y="3.8">42</text>
<text transform="translate(474.17 306.9) rotate(18.24)" y="3.8">91</text>
<text transform="translate(478.7 312.25) rotate(19.35)" y="3.8">100</text>
<text transform="translate(468.3 322.35) rotate(23.41)" y="3.8">72</text>
<text transform="translate(475.23 321.36) rotate(22.3)" y="3.8">42</text>
<text transform="translate(445.74 327.65) rotate(28.2)" y="3.8">91</text>
<text transform="translate(438.96 333.5) rotate(31.15)" y="3.8">73</text>
<text transform="translate(394.5 342.15) rotate(44.43)" y="3.8">83</text>
<text transform="translate(277.73 302.28) rotate(292.88)" y="3.8">77</text>
<text transform="translate(274.9 314.09) rotate(291.24)" y="3.8">95</text>
<text transform="translate(274.96 320.51) rotate(289.42)" y="3.8">100</text>
<text transform="translate(275.86 327.14) rotate(287.27)" y="3.8">100</text>
<text transform="translate(277.14 333.76) rotate(285.18)" y="3.8">98</text>
<text transform="translate(278.68 340.34) rotate(283.21)" y="3.8">100</text>
<text transform="translate(281.49 347.08) rotate(280.74)" y="3.8">95</text>
<text transform="translate(285.3 353.79) rotate(278.02)" y="3.8">95</text>
<text transform="translate(290.69 360.44) rotate(274.8)" y="3.8">100</text>
<text transform="translate(300.36 366.83) rotate(89.83)" y="3.8">56</text>
<text transform="translate(318.53 371.44) rotate(81.36)" y="3.8">98</text>
<text transform="translate(352.82 367.57) rotate(65.9)" y="3.8">92</text>
<text transform="translate(390.27 369.74) rotate(53.1)" y="3.8">90</text>
<text transform="translate(413.22 386.05) rotate(50.34)" y="3.8">100</text>
<text transform="translate(424.6 392.13) rotate(48.86)" y="3.8">100</text>
<text transform="translate(417.09 398.36) rotate(51.81)" y="3.8">73</text>
<text transform="translate(397.84 393.84) rotate(55.87)" y="3.8">47</text>
<text transform="translate(397.96 404.53) rotate(57.71)" y="3.8">79</text>
<text transform="translate(405.25 406.95) rotate(56.24)" y="3.8">33</text>
<text transform="translate(397.01 412.16) rotate(59.19)" y="3.8">86</text>
<text transform="translate(326.53 382.22) rotate(78.7)" y="3.8">100</text>
<text transform="translate(340.83 384.83) rotate(73.21)" y="3.8">53</text>
<text transform="translate(346.18 389.44) rotate(71.74)" y="3.8">100</text>
<text transform="translate(351.78 393.86) rotate(70.27)" y="3.8">65</text>
<text transform="translate(357.62 398.09) rotate(68.8)" y="3.8">42</text>
<text transform="translate(363.68 402.12) rotate(67.35)" y="3.8">75</text>
<text transform="translate(369.92 405.97) rotate(65.92)" y="3.8">75</text>
<text transform="translate(376.26 409.65) rotate(64.54)" y="3.8">75</text>
<text transform="translate(382.55 413.26) rotate(63.25)" y="3.8">75</text>
<text transform="translate(388.5 416.94) rotate(62.14)" y="3.8">100</text>
<text transform="translate(314.93 396.1) rotate(84.18)" y="3.8">61</text>
<text transform="translate(330.21 415.14) rotate(79.66)" y="3.8">75</text>
<text transform="translate(338.12 428.88) rotate(78)" y="3.8">100</text>
<text transform="translate(342.94 433.96) rotate(76.9)" y="3.8">97</text>
<text transform="translate(328.12 433.76) rotate(81.32)" y="3.8">100</text>
<text transform="translate(303.75 414.83) rotate(88.7)" y="3.8">96</text>
<text transform="translate(314.85 426.26) rotate(85.2)" y="3.8">71</text>
<text transform="translate(310.05 432.61) rotate(86.86)" y="3.8">99</text>
<text transform="translate(314.03 438.37) rotate(85.75)" y="3.8">100</text>
<text transform="translate(293.17 426.75) rotate(272.21)" y="3.8">85</text>
<text transform="translate(299.42 435.89) rotate(270.18)" y="3.8">100</text>
<text transform="translate(286.46 432.39) rotate(274.24)" y="3.8">100</text>
<text transform="translate(289.66 438.61) rotate(273.13)" y="3.8">100</text>
<text transform="translate(265.7 392.81) rotate(283.46)" y="3.8">33</text>
<text transform="translate(254.13 380.03) rotate(289.36)" y="3.8">100</text>
<text transform="translate(248.79 344.95) rotate(298.21)" y="3.8">47</text>
<text transform="translate(234.77 237.72) rotate(10.24)" y="3.8">72</text>
<text transform="translate(182.73 245.73) rotate(1.84)" y="3.8">89</text>
<text transform="translate(179.2 274.38) rotate(348.36)" y="3.8">100</text>
<text transform="translate(195.37 325.53) rotate(324)" y="3.8">79</text>
<text transform="translate(218.26 357.38) rotate(307.15)" y="3.8">100</text>
<text transform="translate(217.58 382.38) rotate(301.81)" y="3.8">100</text>
<text transform="translate(202.88 397.94) rotate(303.19)" y="3.8">96</text>
<text transform="translate(196.16 400.66) rotate(304.49)" y="3.8">77</text>
<text transform="translate(189.77 403.51) rotate(305.59)" y="3.8">100</text>
<text transform="translate(204.52 353.73) rotate(312.49)" y="3.8">92</text>
<text transform="translate(195.08 381.19) rotate(308.54)" y="3.8">83</text>
<text transform="translate(193.22 351.04) rotate(316.44)" y="3.8">79</text>
<text transform="translate(191.06 369.9) rotate(312.14)" y="3.8">61</text>
<text transform="translate(177.84 378.12) rotate(313.52)" y="3.8">100</text>
<text transform="translate(170.74 379.59) rotate(314.82)" y="3.8">100</text>
<text transform="translate(163.94 381.25) rotate(315.92)" y="3.8">56</text>
<text transform="translate(181.25 346.55) rotate(320.74)" y="3.8">65</text>
<text transform="translate(168.65 364.19) rotate(318.87)" y="3.8">61</text>
<text transform="translate(173.38 346.28) rotate(322.61)" y="3.8">61</text>
<text transform="translate(165.99 346.4) rotate(324.13)" y="3.8">88</text>
<text transform="translate(158.43 346.08) rotate(325.7)" y="3.8">100</text>
<text transform="translate(150.63 345.18) rotate(327.36)" y="3.8">100</text>
<text transform="translate(142.47 343.39) rotate(329.2)" y="3.8">100</text>
<text transform="translate(139.87 350.63) rotate(327.73)" y="3.8">85</text>
<text transform="translate(134.87 342.25) rotate(330.68)" y="3.8">92</text>
<text transform="translate(172.15 293.93) rotate(340.84)" y="3.8">61</text>
<text transform="translate(151.84 322.95) rotate(333.63)" y="3.8">99</text>
<text transform="translate(161.71 278.78) rotate(348.05)" y="3.8">51</text>
<text transform="translate(149.73 302.58) rotate(340.55)" y="3.8">100</text>
<text transform="translate(136.12 317.37) rotate(337.5)" y="3.8">96</text>
<text transform="translate(128.61 314.73) rotate(339.16)" y="3.8">51</text>
<text transform="translate(124.33 320.27) rotate(338.06)" y="3.8">79</text>
<text transform="translate(126.96 300.46) rotate(343.59)" y="3.8">100</text>
<text transform="translate(119.39 306.5) rotate(342.48)" y="3.8">47</text>
<text transform="translate(153.09 260.95) rotate(355.55)" y="3.8">100</text>
<text transform="translate(137.5 280.18) rotate(349.31)" y="3.8">51</text>
<text transform="translate(121.11 289.88) rotate(347.28)" y="3.8">88</text>
<text transform="translate(114.49 287.63) rotate(348.39)" y="3.8">100</text>
<text transform="translate(115.74 277.57) rotate(351.34)" y="3.8">92</text>
<text transform="translate(146.71 244.73) rotate(1.78)" y="3.8">51</text>
<text transform="translate(141.22 263.19) rotate(355.07)" y="3.8">79</text>
<text transform="translate(134.92 259.32) rotate(356.59)" y="3.8">99</text>
<text transform="translate(128.71 255) rotate(358.16)" y="3.8">83</text>
<text transform="translate(122.62 250.05) rotate(359.82)" y="3.8">95</text>
<text transform="translate(116.69 244.17) rotate(1.67)" y="3.8">47</text>
<text transform="translate(110.61 248.87) rotate(0.19)" y="3.8">47</text>
<text transform="translate(110.89 239.12) rotate(3.14)" y="3.8">53</text>
<text transform="translate(133.47 224.64) rotate(8.49)" y="3.8">74</text>
<text transform="translate(117.78 228.86) rotate(6.46)" y="3.8">85</text>
<text transform="translate(112.26 224.55) rotate(7.57)" y="3.8">95</text>
<text transform="translate(116.74 215.47) rotate(10.52)" y="3.8">97</text>
<text transform="translate(152.08 208.99) rotate(15.32)" y="3.8">82</text>
<text transform="translate(118.33 195.95) rotate(16.42)" y="3.8">94</text>
</g>
<g id="labels" font-family="'Liberation Sans', Arial, sans-serif" font-size="3.3" font-weight="bold" fill="#050505" stroke="#050505" stroke-width="0.26">
<text transform="translate(126.7 147.87) rotate(30.39)" text-anchor="end" y="1.1">2Sus scrofa</text>
<text transform="translate(129.37 143.45) rotate(31.86)" text-anchor="end" y="1.1">2Urocitellus parryii</text>
<text transform="translate(132.16 139.09) rotate(33.34)" text-anchor="end" y="1.1">2Castor canadensis</text>
<text transform="translate(135.06 134.8) rotate(34.81)" text-anchor="end" y="1.1">2Chinchilla lanigera</text>
<text transform="translate(138.07 130.59) rotate(36.29)" text-anchor="end" y="1.1">2Manis pentadactyla</text>
<text transform="translate(141.18 126.46) rotate(37.77)" text-anchor="end" y="1.1">2Condylura cristata</text>
<text transform="translate(144.41 122.41) rotate(39.24)" text-anchor="end" y="1.1">2Myotis myotis</text>
<text transform="translate(147.73 118.45) rotate(40.72)" text-anchor="end" y="1.1">2Elephas maximus</text>
<text transform="translate(151.16 114.57) rotate(42.19)" text-anchor="end" y="1.1">2Enhydra lutris</text>
<text transform="translate(154.68 110.78) rotate(43.67)" text-anchor="end" y="1.1">2Ursus arctos</text>
<text transform="translate(158.3 107.09) rotate(45.14)" text-anchor="end" y="1.1">2Bison bison</text>
<text transform="translate(162.01 103.48) rotate(46.62)" text-anchor="end" y="1.1">2Orcinus orca</text>
<text transform="translate(165.82 99.98) rotate(48.1)" text-anchor="end" y="1.1">2Capra hircus</text>
<text transform="translate(169.72 96.57) rotate(49.57)" text-anchor="end" y="1.1">2Rattus rattus</text>
<text transform="translate(173.7 93.27) rotate(51.05)" text-anchor="end" y="1.1">2Panthera leo</text>
<text transform="translate(177.76 90.07) rotate(52.52)" text-anchor="end" y="1.1">2Pan paniscus</text>
<text transform="translate(181.91 86.97) rotate(54)" text-anchor="end" y="1.1">2Vicugna pacos</text>
<text transform="translate(186.13 83.99) rotate(55.47)" text-anchor="end" y="1.1">2Vulpes vulpes</text>
<text transform="translate(190.43 81.11) rotate(56.95)" text-anchor="end" y="1.1">2Octodon degus</text>
<text transform="translate(194.81 78.34) rotate(58.42)" text-anchor="end" y="1.1">2Ornithorhynchus anatinus</text>
<text transform="translate(199.25 75.69) rotate(59.9)" text-anchor="end" y="1.1">2Aotus nancymaae</text>
<text transform="translate(203.76 73.15) rotate(61.38)" text-anchor="end" y="1.1">2Bubalus bubalis</text>
<text transform="translate(208.33 70.73) rotate(62.85)" text-anchor="end" y="1.1">2Lontra canadensis</text>
<text transform="translate(212.96 68.43) rotate(64.33)" text-anchor="end" y="1.1">2Moschus berezovskii</text>
<text transform="translate(217.66 66.25) rotate(65.8)" text-anchor="end" y="1.1">2Panthera pardus</text>
<text transform="translate(222.4 64.19) rotate(67.28)" text-anchor="end" y="1.1">2Ochotona princeps</text>
<text transform="translate(227.2 62.25) rotate(68.75)" text-anchor="end" y="1.1">2Ceratotherium simum</text>
<text transform="translate(232.05 60.44) rotate(70.23)" text-anchor="end" y="1.1">2Myotis myotis</text>
<text transform="translate(236.94 58.75) rotate(71.71)" text-anchor="end" y="1.1">2Urocitellus parryii</text>
<text transform="translate(241.87 57.19) rotate(73.18)" text-anchor="end" y="1.1">2Equus caballus</text>
<text transform="translate(246.84 55.76) rotate(74.66)" text-anchor="end" y="1.1">2Enhydra lutris</text>
<text transform="translate(251.85 54.46) rotate(76.13)" text-anchor="end" y="1.1">2Capra hircus</text>
<text transform="translate(256.89 53.28) rotate(77.61)" text-anchor="end" y="1.1">2Ursus maritimus</text>
<text transform="translate(261.95 52.24) rotate(79.08)" text-anchor="end" y="1.1">2Elaphurus davidianus</text>
<text transform="translate(267.05 51.32) rotate(80.56)" text-anchor="end" y="1.1">1Sus scrofa</text>
<text transform="translate(272.16 50.54) rotate(82.03)" text-anchor="end" y="1.1">2Talpa occidentalis</text>
<text transform="translate(277.29 49.89) rotate(83.51)" text-anchor="end" y="1.1">2Rousettus aegyptiacus</text>
<text transform="translate(282.44 49.37) rotate(84.99)" text-anchor="end" y="1.1">2Moschus berezovskii</text>
<text transform="translate(287.6 48.98) rotate(86.46)" text-anchor="end" y="1.1">2Zalophus californianus</text>
<text transform="translate(292.77 48.73) rotate(87.94)" text-anchor="end" y="1.1">2Artibeus jamaicensis</text>
<text transform="translate(297.94 48.61) rotate(89.41)" text-anchor="end" y="1.1">2Lontra canadensis</text>
<text transform="translate(303.12 48.62) rotate(270.89)" y="1.1">2Hipposideros armiger</text>
<text transform="translate(308.29 48.77) rotate(272.36)" y="1.1">2Aotus nancymaae</text>
<text transform="translate(313.45 49.05) rotate(273.84)" y="1.1">2Lipotes vexillifer</text>
<text transform="translate(318.61 49.46) rotate(275.32)" y="1.1">2Rhinopithecus roxellana</text>
<text transform="translate(323.76 50.01) rotate(276.79)" y="1.1">2Chrysochloris asiatica</text>
<text transform="translate(328.89 50.69) rotate(278.27)" y="1.1">2Urocitellus parryii</text>
<text transform="translate(334 51.5) rotate(279.74)" y="1.1">2Equus caballus</text>
<text transform="translate(339.08 52.44) rotate(281.22)" y="1.1">2Odobenus rosmarus</text>
<text transform="translate(344.15 53.51) rotate(282.69)" y="1.1">2Vulpes lagopus</text>
<text transform="translate(349.18 54.71) rotate(284.17)" y="1.1">1Talpa occidentalis</text>
<text transform="translate(354.18 56.04) rotate(285.64)" y="1.1">1Ochotona princeps</text>
<text transform="translate(359.14 57.5) rotate(287.12)" y="1.1">3Dipodomys ordii</text>
<text transform="translate(364.07 59.09) rotate(288.6)" y="1.1">3Tapirus indicus</text>
<text transform="translate(368.95 60.8) rotate(290.07)" y="1.1">3Globicephala melas</text>
<text transform="translate(373.78 62.64) rotate(291.55)" y="1.1">3Pan troglodytes</text>
<text transform="translate(378.57 64.6) rotate(293.02)" y="1.1">3Moschus berezovskii</text>
<text transform="translate(383.31 66.69) rotate(294.5)" y="1.1">3Chinchilla lanigera</text>
<text transform="translate(387.99 68.89) rotate(295.97)" y="1.1">3Hyaena hyaena</text>
<text transform="translate(392.61 71.22) rotate(297.45)" y="1.1">3Macaca fascicularis</text>
<text transform="translate(397.17 73.66) rotate(298.93)" y="1.1">3Gorilla gorilla</text>
<text transform="translate(401.67 76.22) rotate(300.4)" y="1.1">3Lipotes vexillifer</text>
<text transform="translate(406.09 78.9) rotate(301.88)" y="1.1">3Callorhinus ursinus</text>
<text transform="translate(410.45 81.69) rotate(303.35)" y="1.1">3Manis pentadactyla</text>
<text transform="translate(414.74 84.59) rotate(304.83)" y="1.1">3Castor canadensis</text>
<text transform="translate(418.95 87.6) rotate(306.3)" y="1.1">1Moschus chrysogaster</text>
<text transform="translate(423.08 90.71) rotate(307.78)" y="1.1">1Myotis myotis</text>
<text transform="translate(427.12 93.94) rotate(309.26)" y="1.1">1Capra hircus</text>
<text transform="translate(431.09 97.26) rotate(310.73)" y="1.1">1Bubalus bubalis</text>
<text transform="translate(434.97 100.69) rotate(312.21)" y="1.1">1Pipistrellus kuhlii</text>
<text transform="translate(438.75 104.21) rotate(313.68)" y="1.1">1Odobenus rosmarus</text>
<text transform="translate(442.45 107.83) rotate(315.16)" y="1.1">1Cebus capucinus</text>
<text transform="translate(446.05 111.55) rotate(316.63)" y="1.1">1Aotus nancymaae</text>
<text transform="translate(449.55 115.36) rotate(318.11)" y="1.1">1Pan troglodytes</text>
<text transform="translate(452.96 119.25) rotate(319.58)" y="1.1">1Octodon degus</text>
<text transform="translate(456.26 123.23) rotate(321.06)" y="1.1">1Rattus rattus</text>
<text transform="translate(459.46 127.3) rotate(322.54)" y="1.1">1Vulpes vulpes</text>
<text transform="translate(462.55 131.45) rotate(324.01)" y="1.1">1Acinonyx jubatus</text>
<text transform="translate(465.54 135.67) rotate(325.49)" y="1.1">1Loxodonta africana</text>
<text transform="translate(468.42 139.97) rotate(326.96)" y="1.1">1Urocitellus parryii</text>
<text transform="translate(471.18 144.35) rotate(328.44)" y="1.1">1Equus caballus</text>
<text transform="translate(473.83 148.79) rotate(329.91)" y="1.1">1Myotis myotis</text>
<text transform="translate(476.37 153.3) rotate(331.39)" y="1.1">1Trichechus manatus</text>
<text transform="translate(478.79 157.87) rotate(332.87)" y="1.1">1Tapirus indicus</text>
<text transform="translate(481.09 162.51) rotate(334.34)" y="1.1">1Enhydra lutris</text>
<text transform="translate(483.27 167.2) rotate(335.82)" y="1.1">1Cebus capucinus</text>
<text transform="translate(485.33 171.95) rotate(337.29)" y="1.1">1Delphinapterus leucas</text>
<text transform="translate(487.26 176.74) rotate(338.77)" y="1.1">1Panthera tigris</text>
<text transform="translate(489.07 181.59) rotate(340.24)" y="1.1">1Lynx pardinus</text>
<text transform="translate(490.76 186.48) rotate(341.72)" y="1.1">1Panthera pardus</text>
<text transform="translate(492.32 191.42) rotate(343.19)" y="1.1">1Panthera uncia</text>
<text transform="translate(493.75 196.39) rotate(344.67)" y="1.1">1Panthera leo</text>
<text transform="translate(495.06 201.39) rotate(346.15)" y="1.1">1Felis catus</text>
<text transform="translate(496.23 206.43) rotate(347.62)" y="1.1">Mustela lutreola</text>
<text transform="translate(497.27 211.5) rotate(349.1)" y="1.1">Rhinolophus ferrumequinum</text>
<text transform="translate(498.19 216.59) rotate(350.57)" y="1.1">2Rhinolophus ferrumequinum</text>
<text transform="translate(498.97 221.71) rotate(352.05)" y="1.1">Murina aurata</text>
<text transform="translate(499.62 226.84) rotate(353.52)" y="1.1">Manis pentadactyla</text>
<text transform="translate(500.14 231.99) rotate(355)" y="1.1">1Erinaceus europaeus</text>
<text transform="translate(500.52 237.15) rotate(356.48)" y="1.1">1Ceratotherium simum</text>
<text transform="translate(500.77 242.32) rotate(357.95)" y="1.1">1Tapirus indicus</text>
<text transform="translate(500.89 247.49) rotate(359.43)" y="1.1">1Equus przewalskii</text>
<text transform="translate(500.88 252.66) rotate(0.9)" y="1.1">1Equus asinus</text>
<text transform="translate(500.73 257.83) rotate(2.38)" y="1.1">3Camelus ferus</text>
<text transform="translate(500.45 263) rotate(3.85)" y="1.1">1Camelus ferus</text>
<text transform="translate(500.03 268.16) rotate(5.33)" y="1.1">2Camelus ferus</text>
<text transform="translate(499.48 273.3) rotate(6.8)" y="1.1">2Camelus bactrianus</text>
<text transform="translate(498.81 278.43) rotate(8.28)" y="1.1">1Vicugna pacos</text>
<text transform="translate(497.99 283.54) rotate(9.76)" y="1.1">1Elaphurus davidianus</text>
<text transform="translate(497.05 288.63) rotate(11.23)" y="1.1">LMoschus chrysogaster</text>
<text transform="translate(495.98 293.69) rotate(12.71)" y="1.1">1Moschus moschiferus</text>
<text transform="translate(494.78 298.72) rotate(14.18)" y="1.1">1Moschus chrysogaster</text>
<text transform="translate(493.44 303.72) rotate(15.66)" y="1.1">1Pantholops hodgsonii</text>
<text transform="translate(491.98 308.69) rotate(17.13)" y="1.1">1Elephas maximus</text>
<text transform="translate(490.4 313.61) rotate(18.61)" y="1.1">1Vulpes lagopus</text>
<text transform="translate(488.68 318.49) rotate(20.09)" y="1.1">1Ursus arctos</text>
<text transform="translate(486.84 323.33) rotate(21.56)" y="1.1">1Vulpes vulpes</text>
<text transform="translate(484.88 328.12) rotate(23.04)" y="1.1">1Orcinus orca</text>
<text transform="translate(482.79 332.85) rotate(24.51)" y="1.1">1Lynx pardinus</text>
<text transform="translate(480.59 337.53) rotate(25.99)" y="1.1">1Lipotes vexillifer</text>
<text transform="translate(478.26 342.15) rotate(27.46)" y="1.1">1Microcebus murinus</text>
<text transform="translate(475.81 346.71) rotate(28.94)" y="1.1">1Moschus chrysogaster</text>
<text transform="translate(473.25 351.21) rotate(30.41)" y="1.1">1Macaca fascicularis</text>
<text transform="translate(470.58 355.63) rotate(31.89)" y="1.1">1Pan troglodytes</text>
<text transform="translate(467.79 359.99) rotate(33.37)" y="1.1">1Lontra canadensis</text>
<text transform="translate(464.89 364.28) rotate(34.84)" y="1.1">1Choloepus didactylus</text>
<text transform="translate(461.88 368.48) rotate(36.32)" y="1.1">1Globicephala melas</text>
<text transform="translate(458.76 372.61) rotate(37.79)" y="1.1">3Manis javanica</text>
<text transform="translate(455.53 376.66) rotate(39.27)" y="1.1">3Callorhinus ursinus</text>
<text transform="translate(452.21 380.62) rotate(40.74)" y="1.1">3Leptonychotes weddellii</text>
<text transform="translate(448.78 384.5) rotate(42.22)" y="1.1">1Ursus maritimus</text>
<text transform="translate(445.26 388.29) rotate(43.7)" y="1.1">1Urocitellus parryii</text>
<text transform="translate(441.63 391.98) rotate(45.17)" y="1.1">2Bos indicus</text>
<text transform="translate(437.92 395.58) rotate(46.65)" y="1.1">3Mus caroli</text>
<text transform="translate(434.11 399.08) rotate(48.12)" y="1.1">3Macaca mulatta</text>
<text transform="translate(430.21 402.49) rotate(49.6)" y="1.1">3Monodon monoceros</text>
<text transform="translate(426.23 405.79) rotate(51.07)" y="1.1">3Desmodus rotundus</text>
<text transform="translate(422.16 408.99) rotate(52.55)" y="1.1">3Peromyscus maniculatus</text>
<text transform="translate(418.02 412.08) rotate(54.02)" y="1.1">3Nannospalax galili</text>
<text transform="translate(413.79 415.07) rotate(55.5)" y="1.1">3Gorilla gorilla</text>
<text transform="translate(409.49 417.94) rotate(56.98)" y="1.1">3Microcebus murinus</text>
<text transform="translate(405.11 420.71) rotate(58.45)" y="1.1">3Tapirus indicus</text>
<text transform="translate(400.67 423.36) rotate(59.93)" y="1.1">3Elephantulus edwardii</text>
<text transform="translate(396.16 425.89) rotate(61.4)" y="1.1">3Panthera uncia</text>
<text transform="translate(391.59 428.31) rotate(62.88)" y="1.1">3Equus asinus</text>
<text transform="translate(386.95 430.61) rotate(64.35)" y="1.1">3Globicephala melas</text>
<text transform="translate(382.26 432.79) rotate(65.83)" y="1.1">3Artibeus jamaicensis</text>
<text transform="translate(377.51 434.85) rotate(67.31)" y="1.1">3Bubalus bubalis</text>
<text transform="translate(372.71 436.78) rotate(68.78)" y="1.1">3Panthera tigris</text>
<text transform="translate(367.87 438.59) rotate(70.26)" y="1.1">3Pipistrellus kuhlii</text>
<text transform="translate(362.97 440.28) rotate(71.73)" y="1.1">3Phocoena sinus</text>
<text transform="translate(358.04 441.83) rotate(73.21)" y="1.1">3Mus musculus</text>
<text transform="translate(353.07 443.26) rotate(74.68)" y="1.1">3Chinchilla lanigera</text>
<text transform="translate(348.06 444.57) rotate(76.16)" y="1.1">3Meriones unguiculatus</text>
<text transform="translate(343.02 445.74) rotate(77.63)" y="1.1">3Ailuropoda melanoleuca</text>
<text transform="translate(337.95 446.78) rotate(79.11)" y="1.1">3Callithrix jacchus</text>
<text transform="translate(332.86 447.69) rotate(80.59)" y="1.1">3Papio anubis</text>
<text transform="translate(327.75 448.47) rotate(82.06)" y="1.1">3Erinaceus europaeus</text>
<text transform="translate(322.61 449.12) rotate(83.54)" y="1.1">3Macaca mulatta</text>
<text transform="translate(317.46 449.64) rotate(85.01)" y="1.1">3Rhinopithecus bieti</text>
<text transform="translate(312.3 450.02) rotate(86.49)" y="1.1">3Myotis myotis</text>
<text transform="translate(307.14 450.27) rotate(87.96)" y="1.1">3Octodon degus</text>
<text transform="translate(301.96 450.39) rotate(89.44)" y="1.1">3Cebus capucinus</text>
<text transform="translate(296.79 450.37) rotate(270.92)" text-anchor="end" y="1.1">3Chlorocebus sabaeus</text>
<text transform="translate(291.62 450.23) rotate(272.39)" text-anchor="end" y="1.1">3Rousettus aegyptiacus</text>
<text transform="translate(286.45 449.94) rotate(273.87)" text-anchor="end" y="1.1">3Odobenus rosmarus</text>
<text transform="translate(281.29 449.53) rotate(275.34)" text-anchor="end" y="1.1">3Cervus elaphus</text>
<text transform="translate(276.15 448.98) rotate(276.82)" text-anchor="end" y="1.1">3Pan troglodytes</text>
<text transform="translate(271.02 448.3) rotate(278.29)" text-anchor="end" y="1.1">3Canis lupus</text>
<text transform="translate(265.91 447.49) rotate(279.77)" text-anchor="end" y="1.1">3Sorex araneus</text>
<text transform="translate(260.82 446.54) rotate(281.24)" text-anchor="end" y="1.1">3Suricata suricatta</text>
<text transform="translate(255.76 445.47) rotate(282.72)" text-anchor="end" y="1.1">3Microtus ochrogaster</text>
<text transform="translate(250.73 444.26) rotate(284.2)" text-anchor="end" y="1.1">3Panthera uncia</text>
<text transform="translate(245.73 442.93) rotate(285.67)" text-anchor="end" y="1.1">3Marmota marmota</text>
<text transform="translate(240.77 441.47) rotate(287.15)" text-anchor="end" y="1.1">2Microcebus murinus</text>
<text transform="translate(235.84 439.88) rotate(288.62)" text-anchor="end" y="1.1">3Chinchilla lanigera</text>
<text transform="translate(230.96 438.17) rotate(290.1)" text-anchor="end" y="1.1">3Pan paniscus</text>
<text transform="translate(226.13 436.33) rotate(291.57)" text-anchor="end" y="1.1">2Cavia porcellus</text>
<text transform="translate(221.34 434.36) rotate(293.05)" text-anchor="end" y="1.1">1Macaca mulatta</text>
<text transform="translate(216.61 432.27) rotate(294.53)" text-anchor="end" y="1.1">2Bos taurus</text>
<text transform="translate(211.93 430.07) rotate(296)" text-anchor="end" y="1.1">2Phoca vitulina</text>
<text transform="translate(207.31 427.74) rotate(297.48)" text-anchor="end" y="1.1">LLynx canadensis</text>
<text transform="translate(202.75 425.29) rotate(298.95)" text-anchor="end" y="1.1">LSus scrofa</text>
<text transform="translate(198.25 422.73) rotate(300.43)" text-anchor="end" y="1.1">LPapio anubis</text>
<text transform="translate(193.83 420.05) rotate(301.9)" text-anchor="end" y="1.1">LCanis lupus</text>
<text transform="translate(189.47 417.26) rotate(303.38)" text-anchor="end" y="1.1">LMurina aurata</text>
<text transform="translate(185.19 414.36) rotate(304.86)" text-anchor="end" y="1.1">LEquus caballus</text>
<text transform="translate(180.98 411.35) rotate(306.33)" text-anchor="end" y="1.1">LBos mutus</text>
<text transform="translate(176.85 408.23) rotate(307.81)" text-anchor="end" y="1.1">LElephas maximus</text>
<text transform="translate(172.8 405) rotate(309.28)" text-anchor="end" y="1.1">LPipistrellus kuhlii</text>
<text transform="translate(168.84 401.68) rotate(310.76)" text-anchor="end" y="1.1">LCapra hircus</text>
<text transform="translate(164.97 398.25) rotate(312.23)" text-anchor="end" y="1.1">LJaculus jaculus</text>
<text transform="translate(161.18 394.72) rotate(313.71)" text-anchor="end" y="1.1">LOvis aries</text>
<text transform="translate(157.49 391.1) rotate(315.18)" text-anchor="end" y="1.1">LMolossus molossus</text>
<text transform="translate(153.89 387.38) rotate(316.66)" text-anchor="end" y="1.1">LBos indicus</text>
<text transform="translate(150.38 383.57) rotate(318.14)" text-anchor="end" y="1.1">LBison bison</text>
<text transform="translate(146.98 379.68) rotate(319.61)" text-anchor="end" y="1.1">LMacaca mulatta</text>
<text transform="translate(143.68 375.69) rotate(321.09)" text-anchor="end" y="1.1">LRhinolophus sinicus</text>
<text transform="translate(140.48 371.63) rotate(322.56)" text-anchor="end" y="1.1">LSus scrofa</text>
<text transform="translate(137.39 367.48) rotate(324.04)" text-anchor="end" y="1.1">LVulpes vulpes</text>
<text transform="translate(134.41 363.25) rotate(325.51)" text-anchor="end" y="1.1">LBos mutus</text>
<text transform="translate(131.53 358.95) rotate(326.99)" text-anchor="end" y="1.1">LMacaca nemestrina</text>
<text transform="translate(128.77 354.57) rotate(328.47)" text-anchor="end" y="1.1">LPantholops hodgsonii</text>
<text transform="translate(126.12 350.13) rotate(329.94)" text-anchor="end" y="1.1">LEnhydra lutris</text>
<text transform="translate(123.59 345.62) rotate(331.42)" text-anchor="end" y="1.1">LPanthera leo</text>
<text transform="translate(121.17 341.04) rotate(332.89)" text-anchor="end" y="1.1">LEptesicus fuscus</text>
<text transform="translate(118.87 336.41) rotate(334.37)" text-anchor="end" y="1.1">LFelis catus</text>
<text transform="translate(116.69 331.72) rotate(335.84)" text-anchor="end" y="1.1">LUrocitellus parryii</text>
<text transform="translate(114.64 326.97) rotate(337.32)" text-anchor="end" y="1.1">LErinaceus europaeus</text>
<text transform="translate(112.7 322.17) rotate(338.79)" text-anchor="end" y="1.1">LOchotona princeps</text>
<text transform="translate(110.89 317.32) rotate(340.27)" text-anchor="end" y="1.1">LTrichosurus vulpecula</text>
<text transform="translate(109.21 312.43) rotate(341.75)" text-anchor="end" y="1.1">LMyotis myotis</text>
<text transform="translate(107.65 307.49) rotate(343.22)" text-anchor="end" y="1.1">LOvis aries</text>
<text transform="translate(106.22 302.52) rotate(344.7)" text-anchor="end" y="1.1">LMarmota marmota</text>
<text transform="translate(104.92 297.51) rotate(346.17)" text-anchor="end" y="1.1">LOrycteropus afer</text>
<text transform="translate(103.75 292.47) rotate(347.65)" text-anchor="end" y="1.1">LBos taurus</text>
<text transform="translate(102.71 287.41) rotate(349.12)" text-anchor="end" y="1.1">LMyotis davidii</text>
<text transform="translate(101.8 282.31) rotate(350.6)" text-anchor="end" y="1.1">LCondylura cristata</text>
<text transform="translate(101.02 277.2) rotate(352.08)" text-anchor="end" y="1.1">LMeriones unguiculatus</text>
<text transform="translate(100.37 272.07) rotate(353.55)" text-anchor="end" y="1.1">LMurina aurata</text>
<text transform="translate(99.86 266.92) rotate(355.03)" text-anchor="end" y="1.1">LPhocoena sinus</text>
<text transform="translate(99.47 261.76) rotate(356.5)" text-anchor="end" y="1.1">LGorilla gorilla</text>
<text transform="translate(99.23 256.59) rotate(357.98)" text-anchor="end" y="1.1">LPhoca vitulina</text>
<text transform="translate(99.11 251.42) rotate(359.45)" text-anchor="end" y="1.1">LUrocitellus parryii</text>
<text transform="translate(99.13 246.24) rotate(0.93)" text-anchor="end" y="1.1">LSaimiri boliviensis</text>
<text transform="translate(99.28 241.07) rotate(2.4)" text-anchor="end" y="1.1">LHyaena hyaena</text>
<text transform="translate(99.56 235.9) rotate(3.88)" text-anchor="end" y="1.1">LLeptonychotes weddellii</text>
<text transform="translate(99.98 230.75) rotate(5.36)" text-anchor="end" y="1.1">LPanthera leo</text>
<text transform="translate(100.53 225.6) rotate(6.83)" text-anchor="end" y="1.1">LPteropus alecto</text>
<text transform="translate(101.21 220.47) rotate(8.31)" text-anchor="end" y="1.1">LLontra canadensis</text>
<text transform="translate(102.02 215.36) rotate(9.78)" text-anchor="end" y="1.1">LCebus capucinus</text>
<text transform="translate(102.97 210.28) rotate(11.26)" text-anchor="end" y="1.1">LUrsus arctos</text>
<text transform="translate(104.04 205.22) rotate(12.73)" text-anchor="end" y="1.1">LDesmodus rotundus</text>
<text transform="translate(105.25 200.18) rotate(14.21)" text-anchor="end" y="1.1">LBalaenoptera acutorostrata</text>
<text transform="translate(106.58 195.19) rotate(15.69)" text-anchor="end" y="1.1">LZalophus californianus</text>
<text transform="translate(108.04 190.22) rotate(17.16)" text-anchor="end" y="1.1">LVulpes vulpes</text>
<text transform="translate(109.63 185.3) rotate(18.64)" text-anchor="end" y="1.1">LMicrocebus murinus</text>
<text transform="translate(111.35 180.42) rotate(20.11)" text-anchor="end" y="1.1">LBos indicus</text>
</g>
<g id="legend" font-family="'Liberation Sans', Arial, sans-serif">
<rect x="4.3" y="9.6" width="67.2" height="112" fill="#fff" stroke="#ececec" stroke-width="0.7"/>
<text x="8.3" y="23" font-size="11.1" font-weight="bold" fill="#000">OAS family</text>
<rect x="7.1" y="28.1" width="61.7" height="1.4" fill="#999"/>
<rect x="8.1" y="34.3" width="14.8" height="14.4" fill="#ffd966" stroke="#5a5a4a" stroke-width="0.7"/>
<text x="30.6" y="45.3" font-size="10.8" fill="#000">OAS1</text>
<rect x="8.1" y="56.6" width="14.8" height="14.4" fill="#93c47d" stroke="#5a5a4a" stroke-width="0.7"/>
<text x="30.6" y="67.6" font-size="10.8" fill="#000">OAS2</text>
<rect x="8.1" y="78.9" width="14.8" height="14.4" fill="#c90076" stroke="#5a5a4a" stroke-width="0.7"/>
<text x="30.6" y="89.9" font-size="10.8" fill="#000">OAS3</text>
<rect x="8.1" y="101.2" width="14.8" height="14.4" fill="#2986cc" stroke="#5a5a4a" stroke-width="0.7"/>
<text x="30.6" y="112.2" font-size="10.8" fill="#000">OASL</text>
</g>
</svg>
</body></html>
